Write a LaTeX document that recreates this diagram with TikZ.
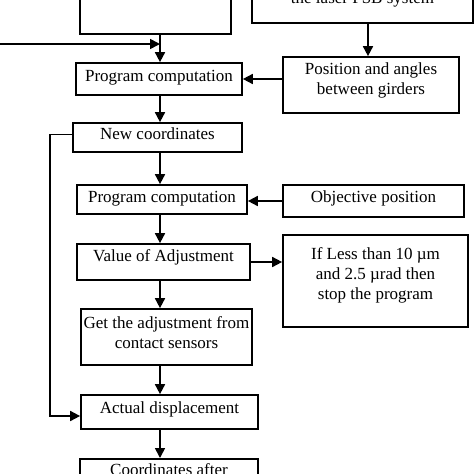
\documentclass[tikz,border=0pt]{standalone}
\usepackage{fontspec}
\setmainfont{Liberation Serif}
\usepackage{tikz}
\usetikzlibrary{arrows.meta}
\tikzset{
    bloc/.style={
           rectangle,
           draw=black, line width=1.7pt,
           align=center,
           inner xsep=2pt, inner ysep=2pt,
           font=\fontsize{17pt}{20pt}\selectfont},
    lift/.style={
           execute at end node={\rule[-#1]{0pt}{#1}}},
    fleche/.style={
           -{Triangle[length=10pt,width=10pt]},
           black, line width=1.7pt}
    }
\begin{document}
\begin{tikzpicture}[x=1pt,y=-1pt]
      \useasboundingbox (0,0) rectangle (474,474);
      \node[bloc,minimum width=151,minimum height=80] (tl) at (155.5,-6) {};
      \node[bloc,minimum width=221,anchor=south,inner ysep=4pt,text height=40pt,text depth=16pt] (psb) at (362.5,24) {the laser PSB system};
      \node[bloc,minimum width=166,minimum height=32,lift=6pt] (pc1) at (159,79) {Program computation};
      \node[bloc,minimum width=176,minimum height=56,lift=12pt] (pos) at (371,85) {Position and angles\\between girders};
      \node[bloc,minimum width=169,minimum height=29,lift=7pt] (nc) at (157.5,137.5) {New coordinates};
      \node[bloc,minimum width=170,minimum height=29,lift=5pt] (pc2) at (162,199.5) {Program computation};
      \node[bloc,minimum width=181,minimum height=32,lift=8pt] (obj) at (373.5,201) {Objective position};
      \node[bloc,minimum width=173,minimum height=36,lift=12pt] (val) at (163.5,262) {Value of Adjustment};
      \node[bloc,minimum width=185,minimum height=92,lift=14pt] (if) at (375.5,281) {If Less than 10 µm\\and 2.5 µrad then\\stop the program};
      \node[bloc,minimum width=171,minimum height=56,lift=9pt] (get) at (166.5,337) {Get the adjustment from\\contact sensors};
      \node[bloc,minimum width=177,minimum height=34,lift=8pt] (act) at (169.5,412) {Actual displacement};
      \node[bloc,minimum width=178,anchor=north,inner ysep=4.4pt,text depth=30pt] (coord) at (169,458) {Coordinates after};
      \coordinate (axe) at (160,0);
      \coordinate (entree) at (0,44);
      \draw[fleche] (entree) -- (entree -| axe);
      \draw[fleche] (tl.south -| axe) -- (pc1.north -| axe);
      \draw[fleche] ([xshift=-3pt]pos.north |- psb.south) -- ([xshift=-3pt]pos.north);
      \draw[fleche] (pos.west |- pc1.east) -- (pc1.east);
      \draw[fleche] (pc1.south -| axe) -- (nc.north -| axe);
      \draw[fleche] (nc.south -| axe) -- (pc2.north -| axe);
      \draw[fleche] (obj.west) -- (obj.west -| pc2.east);
      \draw[fleche] (pc2.south -| axe) -- (val.north -| axe);
      \draw[fleche] (val.east) -- (val.east -| if.west);
      \draw[fleche] (val.south -| axe) -- (get.north -| axe);
      \draw[fleche] (get.south -| axe) -- (act.north -| axe);
      \draw[fleche] (act.south -| axe) -- (coord.north -| axe);
      \draw[fleche] ([yshift=3pt]nc.west) -- ++(-22,0) |- ([yshift=-4pt]act.west);
\end{tikzpicture}
\end{document}
